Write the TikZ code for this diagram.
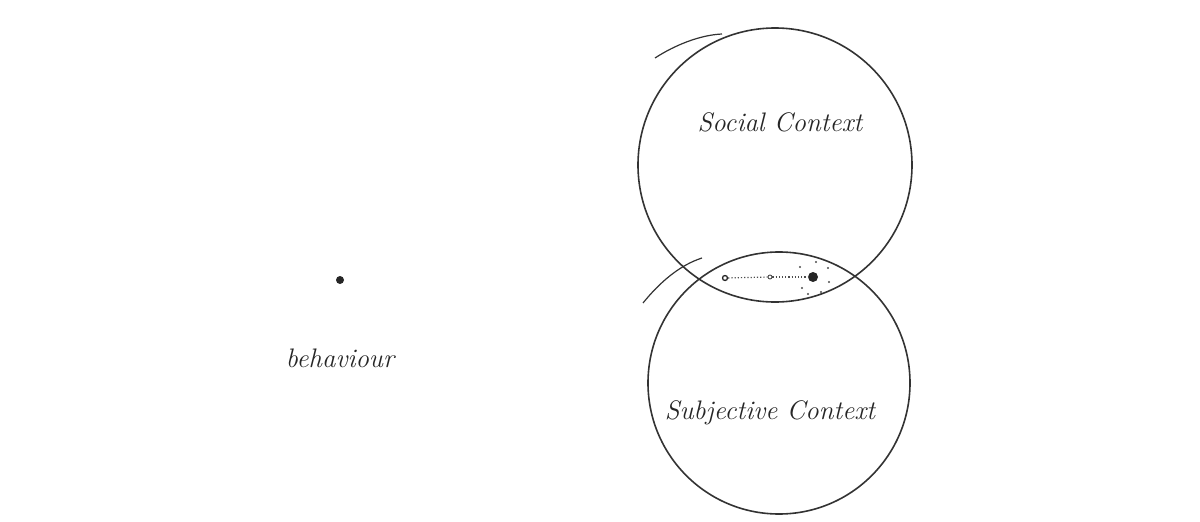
\documentclass[tikz,border=0pt]{standalone}
\begin{document}
\begin{tikzpicture}[x=1pt,y=-1pt,
  ln/.style={line width=1.6pt,draw=black!80},
  lbl/.style={font=\itshape\LARGE,text=black!85,scale=1.55}]
\useasboundingbox (0,0) rectangle (1200,522);
\node[circle,ln,minimum size=274pt,inner sep=0] (soc) at (775,165) {};
\node[circle,ln,minimum size=262pt,inner sep=0] (sub) at (779,383) {};
\draw[ln,line width=1.2pt] (655,58) .. controls (675,45) and (700,35) .. (722,34);
\draw[ln,line width=1.2pt] (643,303) .. controls (660,282) and (680,265) .. (702,258);
\node[circle,fill=black!85,minimum size=8pt,inner sep=0] (b) at (340,280) {};
\node[lbl] (bl) at (340,358) {behaviour};
\node[lbl] (sl) at (780,122) {Social Context};
\node[lbl] (jl) at (770,413) {Subjective Context};
\node[circle,draw=black!85,line width=1.3pt,minimum size=5pt,inner sep=0] (o1) at (725,278) {};
\node[circle,draw=black!70,line width=0.9pt,minimum size=4pt,inner sep=0] (o2) at (770,277) {};
\node[circle,fill=black!85,minimum size=10pt,inner sep=0] (f) at (813,277) {};
\draw[black!70,line width=1.2pt,dotted] (o1) -- (o2);
\draw[black!70,line width=1.2pt,dotted] (o2) -- (f);
\foreach \p in {(800,267),(816,262),(828,268),(829,282),(802,288),(808,294),(821,292)}
  \fill[black!70] \p circle (1.1pt);
\end{tikzpicture}
\end{document}
